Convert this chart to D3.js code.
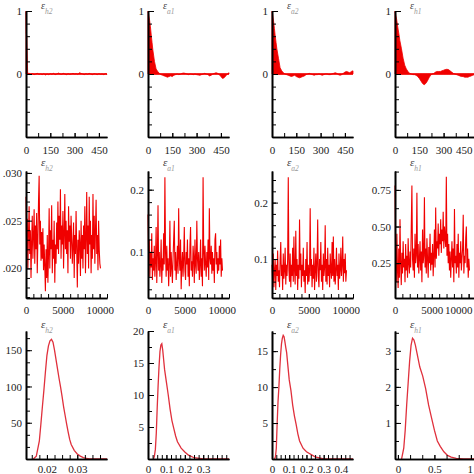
<!DOCTYPE html>
<html>
<head>
<meta charset="utf-8">
<script src="https://cdn.jsdelivr.net/npm/d3@7"></script>
<style>
  body { margin: 0; background: #fff; }
  svg { display: block; }
  text { font-family: "Liberation Serif", "DejaVu Serif", serif; }
</style>
</head>
<body>
<div id="chart"></div>
<script>
// parameter names (subscripts of epsilon)
const names = ['h2', 'a1', 'a2', 'h1']

// ---- row 1: autocorrelation by lag
const acfLags = [0, 2, 5, 10, 15, 20, 25, 30, 40, 50, 60, 70, 80, 90, 100, 110, 120, 130, 140, 150, 160, 170, 180, 190, 200,
  210, 220, 230, 240, 250, 260, 270, 280, 290, 300, 310, 320, 330, 340, 350, 360, 370, 380, 390, 400, 410, 420, 430, 440, 450,
  460, 470, 480, 490, 500]
const acfH2 = [1, 0.65, 0.6, 0.03, 0, 0.01, -0.01, 0, 0.005, -0.01, 0, 0.01, -0.005, 0, -0.01, 0.005, -0.015, 0, -0.01, 0.005,
  -0.005, 0.01, -0.01, 0, 0.015, 0, -0.005, 0.01, 0, -0.01, 0.005, -0.005, 0, 0.01, 0, 0.005, -0.005, 0.02, 0.01, 0,
  -0.01, 0.005, -0.005, 0.01, 0, -0.01, 0.005, 0, -0.01, 0.005, -0.005, 0, -0.01, 0.005, -0.005]
const acfA1 = [1, 0.98, 0.93, 0.85, 0.75, 0.62, 0.5, 0.38, 0.2, 0.08, 0.04, 0.01, -0.01, -0.02, -0.03, -0.04, -0.05, -0.04, -0.03, -0.04,
  -0.02, -0.01, 0, -0.01, -0.005, 0.01, 0.015, 0.01, 0, -0.01, 0, -0.005, -0.01, 0, -0.01, -0.015, -0.02, -0.01, 0, 0.01,
  0, -0.01, -0.03, -0.02, 0, 0.01, 0.02, 0.01, -0.01, -0.04, -0.07, -0.06, -0.03, 0, 0.02]
const acfA2 = [1, 0.98, 0.93, 0.83, 0.72, 0.6, 0.5, 0.4, 0.25, 0.1, 0.05, 0.02, 0, -0.01, -0.02, -0.03, -0.04, -0.03, -0.02, -0.04,
  -0.05, -0.06, -0.05, -0.04, -0.03, -0.01, 0, 0.01, 0, -0.01, -0.02, -0.01, -0.01, 0, -0.01, -0.02, -0.01, 0, 0, -0.01,
  -0.01, 0, 0.01, 0.02, 0.01, -0.01, -0.02, -0.01, 0.01, 0.03, 0.04, 0.03, 0.02, 0.04, 0.05]
const acfH1 = [1, 0.97, 0.93, 0.87, 0.78, 0.7, 0.62, 0.53, 0.4, 0.25, 0.14, 0.08, 0.04, 0.01, 0, -0.01, -0.01, -0.02, -0.04, -0.07,
  -0.11, -0.15, -0.17, -0.15, -0.11, -0.06, -0.02, 0, 0.01, 0.03, 0.04, 0.04, 0.04, 0.05, 0.06, 0.07, 0.075, 0.07, 0.05, 0.03,
  0.01, 0, -0.01, -0.02, -0.03, -0.04, -0.04, -0.05, -0.05, -0.05, -0.04, -0.03, -0.02, -0.01, 0]

// ---- row 2: traces (one stored draw every traceStep iterations)
const traceStep = 85
const traceH2 = [.0275, .0220, .0252, .0200, .0238, .0265, .0215, .0240, .0190, .0228,
  .0255, .0210, .0235, .0262, .0205, .0245, .0220, .0258, .0195, .0230,
  .0270, .0297, .0225, .0250, .0208, .0238, .0210, .0242, .0198, .0225,
  .0202, .0176, .0220, .0190, .0235, .0185, .0215, .0263, .0200, .0240,
  .0220, .0266, .0195, .0230, .0210, .0250, .0185, .0225, .0205, .0248,
  .0220, .0270, .0215, .0255, .0230, .0283, .0210, .0245, .0225, .0260,
  .0200, .0235, .0278, .0220, .0250, .0215, .0240, .0195, .0265, .0228,
  .0245, .0210, .0255, .0230, .0205, .0225, .0248, .0190, .0235, .0215,
  .0260, .0220, .0180, .0230, .0205, .0240, .0225, .0192, .0250, .0210,
  .0235, .0200, .0245, .0220, .0265, .0195, .0230, .0280, .0215, .0245,
  .0200, .0275, .0225, .0250, .0195, .0235, .0210, .0278, .0220, .0255,
  .0205, .0240, .0272, .0215, .0235, .0198, .0250, .0220, .0205, .0200]
const traceA1 = [0.16, 0.09, 0.12, 0.06, 0.10, 0.075, 0.13, 0.055, 0.09, 0.07,
  0.11, 0.06, 0.085, 0.14, 0.05, 0.095, 0.175, 0.07, 0.10, 0.06,
  0.08, 0.12, 0.05, 0.09, 0.07, 0.13, 0.08, 0.22, 0.10, 0.06,
  0.11, 0.07, 0.09, 0.045, 0.08, 0.15, 0.06, 0.10, 0.075, 0.05,
  0.09, 0.12, 0.15, 0.07, 0.10, 0.055, 0.08, 0.11, 0.065, 0.17,
  0.09, 0.07, 0.12, 0.04, 0.08, 0.10, 0.06, 0.09, 0.14, 0.07,
  0.055, 0.10, 0.08, 0.12, 0.06, 0.09, 0.045, 0.11, 0.14, 0.07,
  0.085, 0.06, 0.11, 0.09, 0.05, 0.12, 0.08, 0.065, 0.15, 0.09,
  0.07, 0.10, 0.055, 0.08, 0.12, 0.06, 0.09, 0.045, 0.22, 0.10,
  0.07, 0.11, 0.08, 0.06, 0.10, 0.075, 0.12, 0.055, 0.17, 0.09,
  0.08, 0.11, 0.065, 0.10, 0.07, 0.09, 0.05, 0.12, 0.13, 0.08,
  0.10, 0.065, 0.09, 0.07, 0.11, 0.08, 0.12, 0.06, 0.09, 0.07]
const traceA2 = [0.09, 0.06, 0.11, 0.05, 0.08, 0.10, 0.045, 0.09, 0.07, 0.115,
  0.06, 0.08, 0.05, 0.10, 0.13, 0.07, 0.09, 0.045, 0.11, 0.065,
  0.08, 0.12, 0.055, 0.09, 0.07, 0.10, 0.245, 0.08, 0.06, 0.11,
  0.05, 0.09, 0.07, 0.12, 0.06, 0.14, 0.08, 0.055, 0.15, 0.07,
  0.10, 0.045, 0.09, 0.065, 0.17, 0.08, 0.11, 0.05, 0.09, 0.07,
  0.12, 0.06, 0.08, 0.04, 0.10, 0.07, 0.13, 0.055, 0.09, 0.06,
  0.08, 0.19, 0.07, 0.10, 0.05, 0.09, 0.065, 0.12, 0.045, 0.08,
  0.11, 0.06, 0.09, 0.17, 0.07, 0.05, 0.10, 0.08, 0.13, 0.06,
  0.09, 0.045, 0.11, 0.07, 0.085, 0.16, 0.06, 0.10, 0.055, 0.12,
  0.07, 0.09, 0.05, 0.11, 0.08, 0.065, 0.13, 0.07, 0.14, 0.06,
  0.10, 0.055, 0.08, 0.12, 0.07, 0.09, 0.045, 0.11, 0.065, 0.08,
  0.12, 0.07, 0.09, 0.14, 0.06, 0.10, 0.075, 0.11, 0.06, 0.08]
const traceH1 = [0.78, 0.30, 0.12, 0.45, 0.20, 0.08, 0.35, 0.15, 0.55, 0.25,
  0.10, 0.32, 0.18, 0.40, 0.22, 0.28, 0.12, 0.38, 0.20, 0.30,
  0.15, 0.42, 0.25, 0.18, 0.33, 0.22, 0.50, 0.78, 0.28, 0.20,
  0.35, 0.15, 0.45, 0.25, 0.30, 0.73, 0.22, 0.38, 0.18, 0.28,
  0.40, 0.20, 0.33, 0.12, 0.48, 0.25, 0.30, 0.70, 0.22, 0.35,
  0.18, 0.42, 0.28, 0.15, 0.36, 0.25, 0.45, 0.20, 0.32, 0.24,
  0.38, 0.16, 0.30, 0.48, 0.22, 0.63, 0.28, 0.40, 0.35, 0.52,
  0.30, 0.45, 0.38, 0.55, 0.32, 0.48, 0.40, 0.60, 0.35, 0.50,
  0.42, 0.36, 0.84, 0.30, 0.45, 0.25, 0.38, 0.20, 0.33, 0.15,
  0.28, 0.40, 0.22, 0.35, 0.12, 0.62, 0.25, 0.30, 0.18, 0.38,
  0.22, 0.45, 0.15, 0.32, 0.25, 0.40, 0.20, 0.28, 0.35, 0.58,
  0.18, 0.30, 0.25, 0.42, 0.50, 0.22, 0.35, 0.15, 0.28, 0.20]

// ---- row 3: posterior densities
const densH2x = [0.0155, 0.0165, 0.0175, 0.018, 0.0185, 0.019, 0.0195, 0.02, 0.0205, 0.021, 0.0215, 0.022, 0.0225, 0.023, 0.0235,
  0.024, 0.0245, 0.025, 0.0255, 0.026, 0.0265, 0.027, 0.0275, 0.028, 0.029, 0.03, 0.031, 0.032, 0.033, 0.034, 0.0398]
const densH2y = [0, 4, 25, 48, 72, 95, 120, 143, 156, 163, 165, 161, 150, 137, 124,
  111, 99, 86, 72, 60, 48, 37, 27, 20, 12, 7, 4, 2, 1, 0, 0]
const densA1x = [0.03, 0.035, 0.04, 0.045, 0.05, 0.055, 0.06, 0.065, 0.07, 0.075, 0.08, 0.085, 0.09, 0.1, 0.11,
  0.12, 0.13, 0.14, 0.15, 0.16, 0.18, 0.2, 0.22, 0.25, 0.3, 0.44]
const densA1y = [0, 0.5, 1.5, 4, 8, 11.5, 14.5, 16.8, 17.8, 18, 17, 15.5, 14, 12, 10,
  7.8, 6, 4.8, 3.6, 2.7, 1.7, 1.1, 0.6, 0.2, 0, 0]
const densA2x = [0.015, 0.02, 0.025, 0.03, 0.035, 0.04, 0.045, 0.05, 0.055, 0.06, 0.065, 0.07, 0.075, 0.08, 0.085,
  0.09, 0.1, 0.11, 0.12, 0.13, 0.14, 0.15, 0.16, 0.18, 0.2, 0.25, 0.3, 0.47]
const densA2y = [0, 0.3, 1.5, 5, 8, 10, 12.5, 14.5, 16, 16.8, 17.2, 17, 16.3, 15.5, 14.8,
  13.5, 11, 9.5, 7.5, 6, 4.8, 3.5, 2.5, 1.5, 1, 0.3, 0, 0]
const densH1x = [0.05, 0.08, 0.1, 0.12, 0.14, 0.16, 0.18, 0.2, 0.22, 0.24, 0.26, 0.3, 0.34, 0.38, 0.42,
  0.46, 0.5, 0.54, 0.58, 0.63, 0.68, 0.73, 0.8, 0.9, 1.07]
const densH1y = [0, 0.3, 0.8, 1.5, 2.1, 2.7, 3.15, 3.35, 3.3, 3.15, 2.95, 2.55, 2.3, 1.95, 1.5,
  1.15, 0.8, 0.5, 0.35, 0.2, 0.1, 0.05, 0.02, 0, 0]

// ---- tick labels
const acfXLabels = [0, 150, 300, 450]
const acfYLabels = [0, 1]
const traceXLabels = [0, 5000, 10000]
const traceYLabels = [[0.020, 0.025, 0.030], [0.1, 0.2], [0.1, 0.2], [0.25, 0.50, 0.75]]
const densXLabels = [[0.02, 0.03], [0, 0.1, 0.2, 0.3], [0, 0.1, 0.2, 0.3, 0.4], [0, 0.5, 1]]
const densYLabels = [[50, 100, 150], [5, 10, 15, 20], [5, 10, 15], [1, 2, 3]]

// ---- layout
const W = 81
const colLeft = [26, 148, 272, 395]
const rowTop = [11, 171, 331]
const rowBottom = [137, 298, 459]
const titleY = [9, 166, 328]
const titleSize = [10, 11, 11]
const xPad = [9, 8, 6]

const traceYDomain = [[0.0169, 0.0302], [0.026, 0.23], [0.031, 0.256], [0.012, 0.879]]
const densXDomain = [[0.0131, 0.0398], [0, 0.44], [0, 0.47], [-0.04, 1.07]]
const densYDomain = [[0, 176.5], [0, 20], [0, 17.8], [0, 3.55]]
const traceXMinor = d3.range(0, 11001, 1000)
const traceYMinor = [0.001, 0.02, 0.02, 0.125]
const densXMinor = [0.0025, 0.025, 0.025, 0.5 / 3]
const densYMinor = [50 / 3, 2.5, 2.5, 0.5]

const red = '#f00000'
const densRed = '#e0303c'

const svg = d3.select('#chart')
  .append('svg')
  .attr('width', 474)
  .attr('height', 474)

function minorTicks (domain, step) {
  const start = Math.ceil(domain[0] / step - 1e-6) * step
  return d3.range(start, domain[1] + step * 1e-6, step)
}

function drawAxes (col, row, x, y, xLabels, yLabels, xMinor, yMinor, xFmt, yFmt) {
  const bottom = rowBottom[row]
  const left = colLeft[col]
  const gx = svg.append('g').attr('transform', `translate(0,${bottom})`)
  gx.call(d3.axisBottom(x).tickValues(xMinor).tickSize(-4).tickSizeOuter(0).tickFormat(''))
  gx.append('g').call(d3.axisBottom(x).tickValues(xLabels).tickSize(-4).tickSizeOuter(0)
    .tickPadding(xPad[row]).tickFormat(xFmt))
  const gy = svg.append('g').attr('transform', `translate(${left},0)`)
  gy.call(d3.axisLeft(y).tickValues(yMinor).tickSize(-4).tickSizeOuter(0).tickFormat(''))
  gy.append('g').call(d3.axisLeft(y).tickValues(yLabels).tickSize(-6).tickSizeOuter(0)
    .tickPadding(4).tickFormat(yFmt))
  svg.selectAll('.domain').attr('stroke', '#000').attr('stroke-width', 1.6)
  svg.selectAll('.tick line').attr('stroke', '#000').attr('stroke-width', 1)
  svg.selectAll('.tick text').attr('fill', '#222').attr('font-size', 11)
    .attr('font-family', '"Liberation Serif", serif')

  const t = svg.append('text')
    .attr('x', left + 15)
    .attr('y', titleY[row])
    .attr('font-style', 'italic')
    .attr('font-size', titleSize[row])
    .attr('fill', '#444')
    .text('ε')
  t.append('tspan').attr('dy', 5).attr('font-size', 7.5).attr('fill', '#999').text(names[col])
}

// row 1: autocorrelation
const acfs = [acfH2, acfA1, acfA2, acfH1]
acfs.forEach((vals, col) => {
  const x = d3.scaleLinear().domain([0, 500]).range([colLeft[col], colLeft[col] + W])
  const y = d3.scaleLinear().domain([-1, 1]).range([rowBottom[0], rowTop[0]])
  const area = d3.area()
    .x((d, i) => x(acfLags[i]))
    .y0(y(0))
    .y1(d => y(d))
  svg.append('path')
    .datum(vals)
    .attr('d', area)
    .attr('fill', red)
    .attr('stroke', red)
    .attr('stroke-width', 0.8)
  svg.append('line')
    .attr('x1', x(0)).attr('x2', x(500))
    .attr('y1', y(0)).attr('y2', y(0))
    .attr('stroke', red)
    .attr('stroke-width', 1.3)
  drawAxes(col, 0, x, y, acfXLabels, acfYLabels, minorTicks([0, 500], 75), minorTicks([-1, 1], 0.2),
    d3.format('d'), d3.format('d'))
})

// row 2: traces
const traces = [traceH2, traceA1, traceA2, traceH1]
const traceFmt = [d => d3.format('.3f')(d).replace(/^0/, ''), d3.format('.1f'), d3.format('.1f'), d3.format('.2f')]
traces.forEach((vals, col) => {
  const x = d3.scaleLinear().domain([0, 11000]).range([colLeft[col], colLeft[col] + W])
  const y = d3.scaleLinear().domain(traceYDomain[col]).range([rowBottom[1], rowTop[1]])
  const line = d3.line()
    .x((d, i) => x(i * traceStep))
    .y(d => y(d))
  svg.append('path')
    .datum(vals)
    .attr('d', line)
    .attr('fill', 'none')
    .attr('stroke', red)
    .attr('stroke-width', 1.1)
  drawAxes(col, 1, x, y, traceXLabels, traceYLabels[col], traceXMinor,
    minorTicks(traceYDomain[col], traceYMinor[col]), d3.format('d'), traceFmt[col])
})

// row 3: densities
const dens = [[densH2x, densH2y], [densA1x, densA1y], [densA2x, densA2y], [densH1x, densH1y]]
const densXFmt = [d3.format('.2f'), d => d === 0 ? '0' : d3.format('.1f')(d), d => d === 0 ? '0' : d3.format('.1f')(d),
  d => d3.format('~g')(d)]
dens.forEach(([xs, ys], col) => {
  const x = d3.scaleLinear().domain(densXDomain[col]).range([colLeft[col], colLeft[col] + W])
  const y = d3.scaleLinear().domain(densYDomain[col]).range([rowBottom[2], rowTop[2]])
  const line = d3.line()
    .x((d, i) => x(xs[i]))
    .y(d => y(d))
  svg.append('path')
    .datum(ys)
    .attr('d', line)
    .attr('fill', 'none')
    .attr('stroke', densRed)
    .attr('stroke-width', 1.3)
  drawAxes(col, 2, x, y, densXLabels[col], densYLabels[col], minorTicks(densXDomain[col], densXMinor[col]),
    minorTicks(densYDomain[col], densYMinor[col]), densXFmt[col], d3.format('d'))
})

// keep tick labels at the right edge inside the picture
svg.selectAll('.tick text').each(function () {
  const box = this.getBoundingClientRect()
  if (box.right > 473) {
    d3.select(this).attr('dx', 473 - box.right)
  }
})
</script>
</body>
</html>
